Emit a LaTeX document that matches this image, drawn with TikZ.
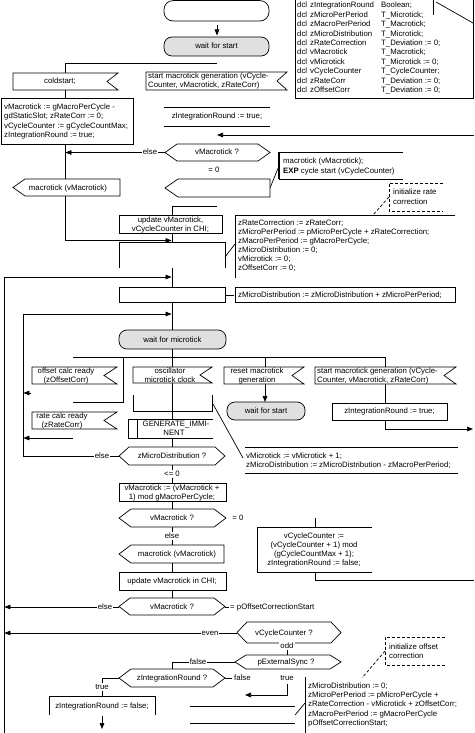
\documentclass[tikz,border=0pt]{standalone}
\usepackage{fontspec}
\setmainfont{Liberation Sans}
\usetikzlibrary{arrows.meta}
\tikzset{
 ln/.style={draw=black,line width=0.7pt},
 arr/.style={ln,-{Triangle[length=6pt,width=4.6pt]}},
 t/.style={font=\fontsize{7.8}{9}\selectfont,inner sep=0pt,text height=5.5pt,text depth=1.5pt},
 tl/.style={t,anchor=west},
 lab/.style={t,fill=white,inner xsep=1pt,inner ysep=0.5pt},
 dsh/.style={ln,dash pattern=on 3pt off 2pt},
 waitfill/.style={fill=black!12},
}
\newcommand\SDLin[5]{\draw[ln,fill=white] (#1,#3) -- (#2,#3) -- ({#2-#5},{(#3+#4)/2}) -- (#2,#4) -- (#1,#4) -- cycle;}
\newcommand\SDLout[5]{\draw[ln,fill=white] ({#1+#5},#3) -- (#2,#3) -- (#2,#4) -- ({#1+#5},#4) -- (#1,{(#3+#4)/2}) -- cycle;}
\newcommand\SDLhex[5]{\draw[ln,fill=white] (#1,{(#3+#4)/2}) -- ({#1+#5},#3) -- ({#2-#5},#3) -- (#2,{(#3+#4)/2}) -- ({#2-#5},#4) -- ({#1+#5},#4) -- cycle;}
\begin{document}
\begin{tikzpicture}[x=1pt,y=-1pt]
\useasboundingbox (0,0) rectangle (474,733);
\fill[white] (0,0) rectangle (474,733);
% ---------- connectors
\draw[arr] (217,25) -- (217,35.5);
\draw[ln] (217,63) -- (65,63) -- (65,73);
\draw[ln] (65,90) -- (65,98);
\draw[arr] (65,144) -- (65,240.5) -- (171.6,240.5);
\draw[arr] (165,152.5) -- (65.4,152.5);
\draw[arr] (474,135) -- (217,135);
\draw[ln] (270,188) -- (279,166);
\draw[ln] (217,206) -- (172,206) -- (172,215);
\draw[ln] (172,233) -- (172,242);
\draw[ln] (225,257) -- (235,244);
\draw[arr] (4,733) -- (4,277) -- (171.6,277);
\draw[ln] (172,268) -- (172,287);
\draw[ln] (225,295) -- (234,295);
\draw[ln] (172,302) -- (172,330);
\draw[arr] (23,456) -- (23,314) -- (171.6,314);
\draw[ln] (172,349) -- (172,357);
\draw[ln] (73,357) -- (385,357);
\draw[ln] (123,357) -- (123,402) -- (73,402);
\draw[arr] (31,393) -- (23.4,393);
\draw[arr] (73,438) -- (23.4,438);
\draw[ln] (172,357) -- (172,419);
\draw[ln] (213,404) -- (243,458);
\draw[ln] (265,357) -- (265,367);
\draw[arr] (265,384) -- (265,402);
\draw[arr] (385,357) -- (385,429) -- (473,429);
\draw[ln] (172,438) -- (172,447);
\draw[ln] (119,456) -- (23,456);
\draw[ln] (172,465) -- (172,483);
\draw[ln] (172,501) -- (172,509);
\draw[ln] (172,527) -- (172,545);
\draw[ln] (172,563) -- (172,572);
\draw[ln] (172,590) -- (172,598);
\draw[arr] (119,607) -- (4.4,607);
\draw[ln] (225,607) -- (229,607);
\draw[arr] (237,633) -- (4.4,633);
\draw[ln] (287,643) -- (287,655);
\draw[ln] (235,662) -- (172,662) -- (172,669);
\draw[ln] (225,678) -- (232,678);
\draw[arr] (287,684) -- (287,695) -- (245,695);
\draw[ln] (119,678) -- (102,678) -- (102,696);
\draw[arr] (102,716) -- (102,729);
\draw[ln] (190,706) -- (295,706);
\draw[ln] (190,723) -- (295,723);
\draw[ln] (295,715) -- (305,703);
\draw[ln] (315,518) -- (315,527);
\draw[ln] (315,572) -- (315,580) -- (474,580);
\draw[dsh] (389,197) -- (373,215);
\draw[dsh] (385,651) -- (362,678);
% ---------- shapes
\draw[ln,fill=white,rounded corners=9pt] (164,0.6) rectangle (269,21);
\draw[ln,waitfill,rounded corners=8pt] (164,37) rectangle (269,56);
\SDLin{13}{118}{73}{90}{11}
\draw[ln,fill=white] (1,98) rectangle (133,144);
\SDLout{13}{120}{179}{196}{12}
\SDLin{146}{287}{72}{90}{10}
\draw[ln] (164,107.5) -- (270,107.5);
\draw[ln] (164,126) -- (270,126);
\SDLhex{165}{270}{144}{161}{12}
\SDLout{165}{270}{179}{197}{13}
\draw[ln] (403,152) -- (279,152);
\draw[line width=1.1pt] (279,152) -- (279,179);
\draw[ln] (279,179) -- (403,179);
\draw[dsh] (443,183) -- (389,183) -- (389,211) -- (443,211);
\draw[ln] (455,215) -- (235,215) -- (235,278);
\draw[ln,fill=white] (119,215) rectangle (222,233);
\draw[ln] (119,268) -- (119,242) -- (225,242) -- (225,268);
\draw[ln,fill=white] (119,287) rectangle (225,302);
\draw[ln] (235,287) rectangle (455,302);
\draw[ln,waitfill,rounded corners=8pt] (119,330) rectangle (226,349);
\SDLin{32}{117}{367}{384}{13}
\SDLin{32}{117}{412}{429}{13}
\SDLin{133}{212}{367}{383}{12}
\draw[ln] (133,395) -- (133,411) -- (212,411) -- (212,395);
\SDLin{224}{304}{367}{384}{12}
\draw[ln,waitfill,rounded corners=8pt] (227,402) rectangle (305,420);
\SDLin{315}{456}{367}{384}{12}
\draw[ln,fill=white] (332,403) rectangle (447,420);
\fill[white] (128,419) rectangle (213,438);
\draw[ln] (213,419) -- (128,419) -- (128,438) -- (213,438);
\draw[ln] (137,419) -- (137,438);
\draw[ln] (245,447) -- (458,447);
\draw[ln] (245,473) -- (458,473);
\SDLhex{119}{225}{447}{465}{10}
\draw[ln,fill=white] (119,483) rectangle (226,501);
\SDLhex{119}{226}{509}{527}{12}
\SDLout{119}{224}{545}{563}{12}
\draw[ln,fill=white] (119,572) rectangle (226,590);
\SDLhex{119}{225}{598}{615}{11}
\draw[ln] (372,527) -- (257,527) -- (257,572) -- (372,572);
\SDLhex{237}{341}{622}{643}{10}
\SDLhex{235}{341}{655}{669}{11}
\SDLhex{119}{225}{669}{687}{12}
\draw[ln] (49,715) -- (49,696) -- (155,696) -- (155,715);
\draw[ln] (305,677) -- (305,733);
\draw[dsh] (445,637) -- (385,637) -- (385,665) -- (445,665);
\draw[ln] (295,0) -- (295,98) -- (473,98) -- (473,0);
\draw[ln] (433,0) -- (433,15);
\draw[ln] (436,2) -- (473,23);
% ---------- declarations
\foreach \i/\n/\ty in {0/zIntegrationRound/Boolean;,1/zMicroPerPeriod/T\_Microtick;,2/zMacroPerPeriod/T\_Macrotick;,3/zMicroDistribution/T\_Microtick;,4/zRateCorrection/{T\_Deviation := 0;},5/vMacrotick/T\_Macrotick;,6/vMicrotick/{T\_Microtick := 0;},7/vCycleCounter/T\_CycleCounter;,8/zRateCorr/{T\_Deviation := 0;},9/zOffsetCorr/{T\_Deviation := 0;}}{
 \node[tl] (dk\i) at (297,{6+9.4*\i}) {dcl};
 \node[tl] (dn\i) at (310,{6+9.4*\i}) {\n};
 \node[tl] (dt\i) at (381,{6+9.4*\i}) {\ty};
}
% ---------- texts
\node[t] (wfs) at (216.5,46.5) {wait for start};
\node[t] (cold) at (60,81.5) {coldstart;};
\node[tl] (i1) at (4,107.5) {vMacrotick := gMacroPerCycle -};
\node[tl] (i2) at (4,117) {gdStaticSlot; zRateCorr := 0;};
\node[tl] (i3) at (4,126.5) {vCycleCounter := gCycleCountMax;};
\node[tl] (i4) at (4,136) {zIntegrationRound := true;};
\node[tl] (smg1) at (148,77) {start macrotick generation (vCycle-};
\node[tl] (smg2) at (148,86) {Counter, vMacrotick, zRateCorr)};
\node[t] (zir1) at (217,117) {zIntegrationRound := true;};
\node[t] (d1) at (217,152.5) {vMacrotick ?};
\node[lab] (el1) at (150,152.5) {else};
\node[t] (eq1) at (214,170) {= 0};
\node[t] (mto1) at (68,188) {macrotick (vMacrotick)};
\node[tl] (c1a) at (283,161.5) {macrotick (vMacrotick);};
\node[tl] (c1b) at (283,171) {\textbf{EXP} cycle start (vCycleCounter)};
\node[tl] (irc1) at (393,192.5) {initialize rate};
\node[tl] (irc2) at (393,202) {correction};
\node[t] (upd1) at (170.5,220) {update vMacrotick,};
\node[t] (upd2) at (170.5,229) {vCycleCounter in CHI;};
\node[tl] (rc1) at (238,223) {zRateCorrection := zRateCorr;};
\node[tl] (rc2) at (238,232) {zMicroPerPeriod := pMicroPerCycle + zRateCorrection;};
\node[tl] (rc3) at (238,241) {zMacroPerPeriod := gMacroPerCycle;};
\node[tl] (rc4) at (238,250) {zMicroDistribution := 0;};
\node[tl] (rc5) at (238,259) {vMicrotick := 0;};
\node[tl] (rc6) at (238,268) {zOffsetCorr := 0;};
\node[tl] (md) at (238,295) {zMicroDistribution := zMicroDistribution + zMicroPerPeriod;};
\node[t] (wfm) at (172.5,340) {wait for microtick};
\node[t] (ocr1) at (66,371.5) {offset calc ready};
\node[t] (ocr2) at (66,380.5) {(zOffsetCorr)};
\node[t] (rcr1) at (62,416.5) {rate calc ready};
\node[t] (rcr2) at (62,425.5) {(zRateCorr)};
\node[t] (osc1) at (170,371.5) {oscillator};
\node[t] (osc2) at (170,380) {microtick clock};
\node[t] (rmg1) at (257,371.5) {reset macrotick};
\node[t] (rmg2) at (257,380.5) {generation};
\node[t] (wfs2) at (266,411) {wait for start};
\node[tl] (smgb1) at (317,371.5) {start macrotick generation (vCycle-};
\node[tl] (smgb2) at (317,380.5) {Counter, vMacrotick, zRateCorr)};
\node[t] (zir2) at (389.5,411.5) {zIntegrationRound := true;};
\node[t] (gen1) at (176,424) {GENERATE\_IMMI-};
\node[t] (gen2) at (174,433) {NENT};
\node[tl] (mt1) at (246,456.5) {vMicrotick := vMicrotick + 1;};
\node[tl] (mt2) at (246,465.5) {zMicroDistribution := zMicroDistribution - zMacroPerPeriod;};
\node[t] (d2) at (172,456) {zMicroDistribution ?};
\node[lab] (el2) at (102,456) {else};
\node[lab] (le0) at (172,474) {<= 0};
\node[t] (vm1) at (172,488) {vMacrotick := (vMacrotick +};
\node[t] (vm2) at (172,497) {1) mod gMacroPerCycle;};
\node[t] (d3) at (172,518) {vMacrotick ?};
\node[t] (eq2) at (238,518) {= 0};
\node[lab] (el3) at (172,536) {else};
\node[t] (mto2) at (177,554) {macrotick (vMacrotick)};
\node[t] (upd3) at (172,581) {update vMacrotick in CHI;};
\node[t] (cc1) at (314,536) {vCycleCounter :=};
\node[t] (cc2) at (314,545) {(vCycleCounter + 1) mod};
\node[t] (cc3) at (314,554) {(gCycleCountMax + 1);};
\node[t] (cc4) at (314,563.5) {zIntegrationRound := false;};
\node[t] (d4) at (172,607) {vMacrotick ?};
\node[lab] (el4) at (105,607) {else};
\node[tl] (ocs) at (230,607) {= pOffsetCorrectionStart};
\node[t] (d5) at (284,633) {vCycleCounter ?};
\node[lab] (ev) at (210,633) {even};
\node[lab] (odd) at (287,646) {odd};
\node[t] (d6) at (286,662) {pExternalSync ?};
\node[lab] (fa1) at (198,662) {false};
\node[t] (d7) at (172,678) {zIntegrationRound ?};
\node[tl] (fa2) at (234,678) {false};
\node[t] (tr1) at (287,678) {true};
\node[lab] (tr2) at (102,687) {true};
\node[t] (zif) at (102,706) {zIntegrationRound := false;};
\node[tl] (ioc1) at (389,647) {initialize offset};
\node[tl] (ioc2) at (389,656) {correction};
\node[tl] (oc1) at (308,686) {zMicroDistribution := 0;};
\node[tl] (oc2) at (308,695) {zMicroPerPeriod := pMicroPerCycle +};
\node[tl] (oc3) at (308,704.5) {zRateCorrection - vMicrotick + zOffsetCorr;};
\node[tl] (oc4) at (308,714) {zMacroPerPeriod := gMacroPerCycle};
\node[tl] (oc5) at (308,723) {pOffsetCorrectionStart;};
\end{tikzpicture}
\end{document}
